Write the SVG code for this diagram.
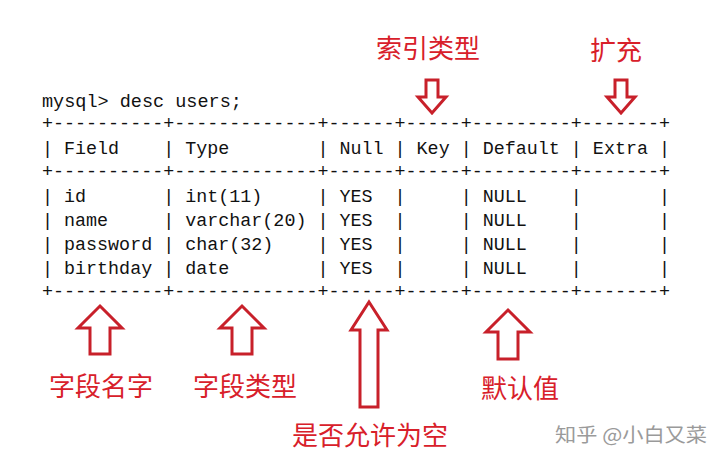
<svg xmlns="http://www.w3.org/2000/svg" width="725" height="466" viewBox="0 0 725 466">
<style>
.m{font-family:"Liberation Mono","DejaVu Sans Mono",monospace;font-size:18.5px;fill:#111;white-space:pre}
.l{font-family:"Noto Sans CJK SC",sans-serif;font-size:26px;fill:#d8202a;text-anchor:middle}
.a{fill:#fff;stroke:#c8202a;stroke-width:3;stroke-linejoin:miter}
</style>
<rect width="725" height="466" fill="#fff"/>
<g id="table">
<text class="m" x="42" y="107" xml:space="preserve">mysql&gt; desc users;</text>
<text class="m" x="42" y="129" textLength="628" lengthAdjust="spacingAndGlyphs" xml:space="preserve">+----------+-------------+------+-----+---------+-------+</text>
<text class="m" x="42" y="154" textLength="628" lengthAdjust="spacingAndGlyphs" xml:space="preserve">| Field    | Type        | Null | Key | Default | Extra |</text>
<text class="m" x="42" y="177" textLength="628" lengthAdjust="spacingAndGlyphs" xml:space="preserve">+----------+-------------+------+-----+---------+-------+</text>
<text class="m" x="42" y="202" textLength="628" lengthAdjust="spacingAndGlyphs" xml:space="preserve">| id       | int(11)     | YES  |     | NULL    |       |</text>
<text class="m" x="42" y="226" textLength="628" lengthAdjust="spacingAndGlyphs" xml:space="preserve">| name     | varchar(20) | YES  |     | NULL    |       |</text>
<text class="m" x="42" y="250" textLength="628" lengthAdjust="spacingAndGlyphs" xml:space="preserve">| password | char(32)    | YES  |     | NULL    |       |</text>
<text class="m" x="42" y="274" textLength="628" lengthAdjust="spacingAndGlyphs" xml:space="preserve">| birthday | date        | YES  |     | NULL    |       |</text>
<text class="m" x="42" y="297" textLength="628" lengthAdjust="spacingAndGlyphs" xml:space="preserve">+----------+-------------+------+-----+---------+-------+</text>
</g>
<g id="arrows">
<path class="a" d="M100,306 L122,328 L110,328 L110,354 L90,354 L90,328 L78,328 Z"/>
<path class="a" d="M242,306 L264,328 L252,328 L252,354 L232,354 L232,328 L220,328 Z"/>
<path class="a" d="M369,302 L387,330 L378,330 L378,407 L360,407 L360,330 L351,330 Z"/>
<path class="a" d="M508,310 L530,332 L518,332 L518,359 L498,359 L498,332 L486,332 Z"/>
<path class="a" d="M432,113 L446,97 L438,97 L438,80 L426,80 L426,97 L418,97 Z"/>
<path class="a" d="M621,113 L635,97 L627,97 L627,80 L615,80 L615,97 L607,97 Z"/>
</g>
<g id="labels">
<text class="l" x="428" y="58">索引类型</text>
<text class="l" x="616" y="60">扩充</text>
<text class="l" x="101" y="396">字段名字</text>
<text class="l" x="245" y="396">字段类型</text>
<text class="l" x="370" y="445">是否允许为空</text>
<text class="l" x="520" y="398">默认值</text>
<text x="555" y="442" textLength="152" lengthAdjust="spacingAndGlyphs" style="font-family:'Noto Sans CJK SC',sans-serif;font-size:19px;fill:#9a9a9a">知乎 @小白又菜</text>
</g>
</svg>
